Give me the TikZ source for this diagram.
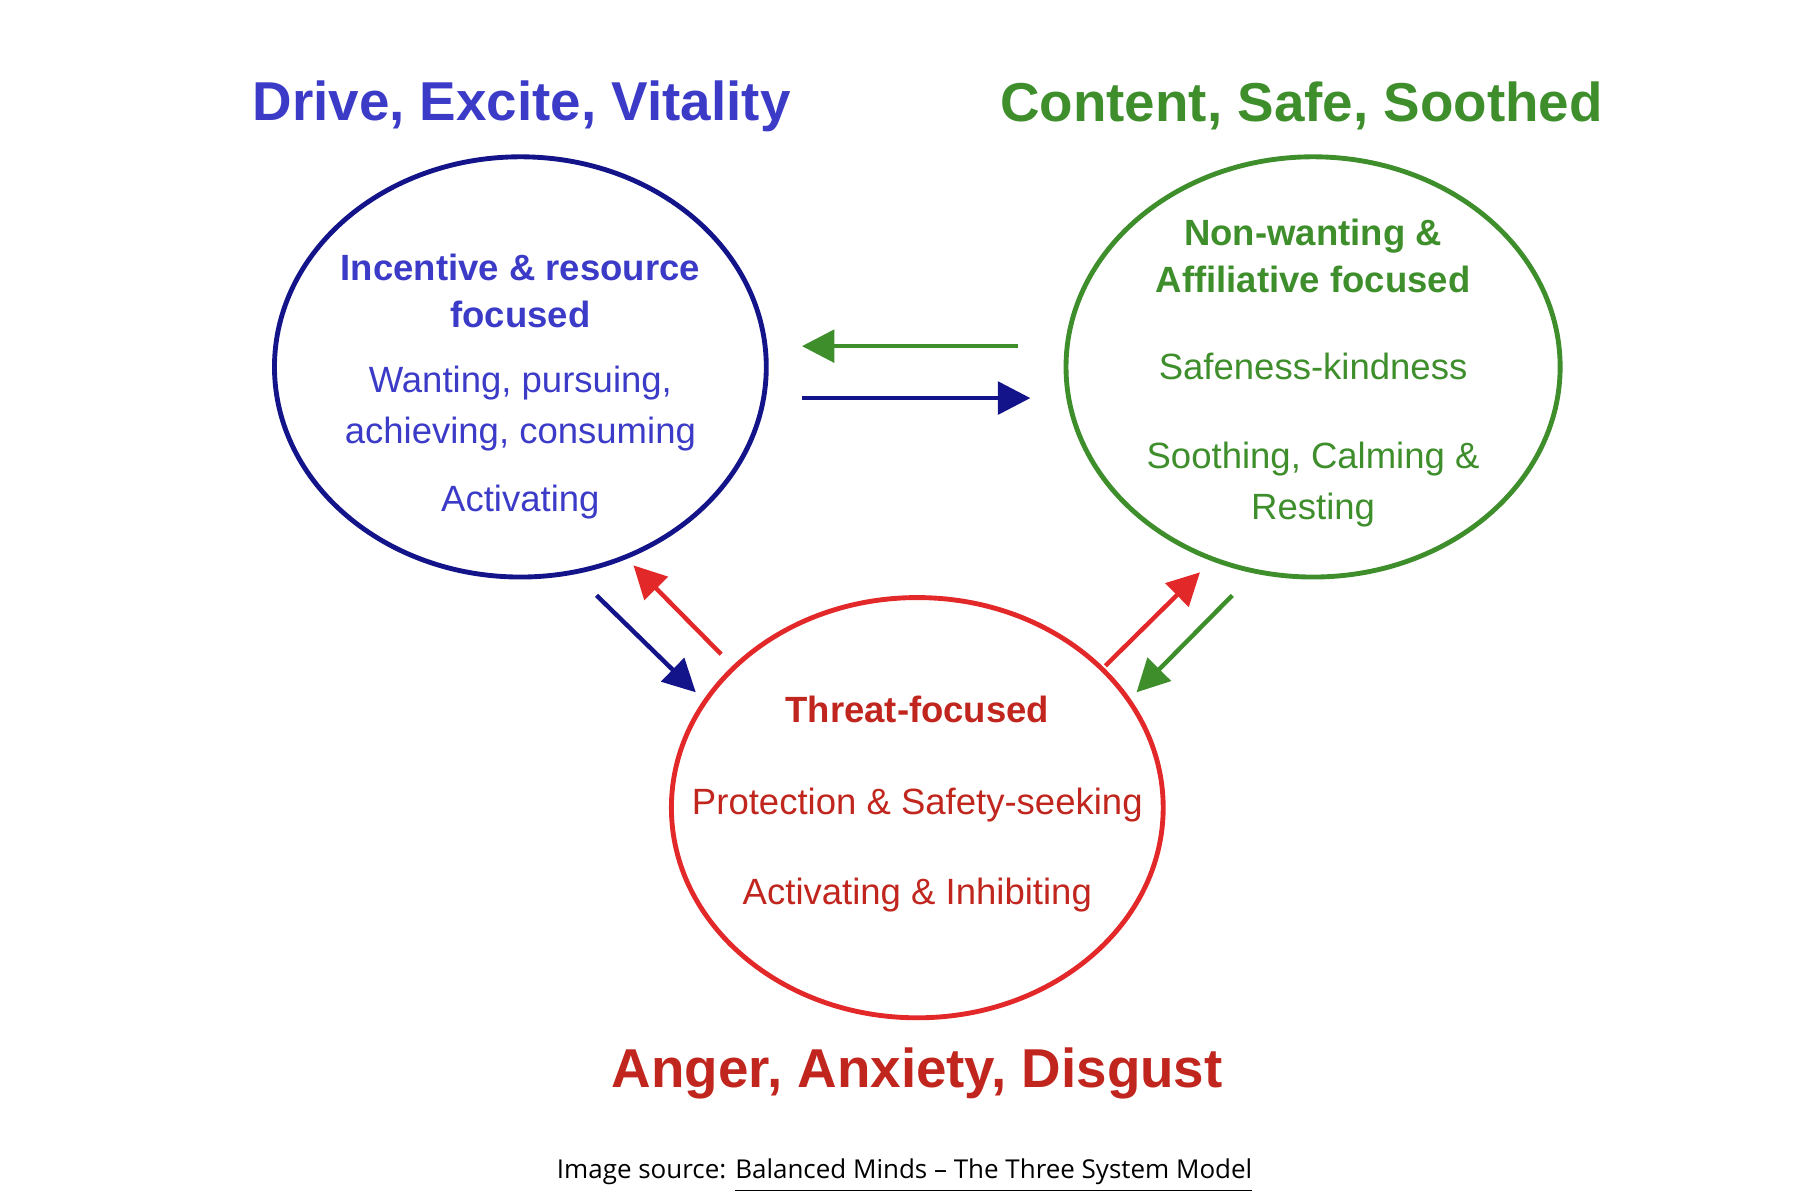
\documentclass[tikz,border=0pt]{standalone}
\usepackage{fontspec}
\setmainfont{Liberation Sans}
\newfontfamily\capfont{Open Sans}
\usetikzlibrary{arrows.meta,shapes.geometric}
\definecolor{tblue}{HTML}{3B3BC8}
\definecolor{dblue}{HTML}{14148A}
\definecolor{tgreen}{HTML}{3E8E2C}
\definecolor{cred}{HTML}{E3282A}
\definecolor{tred}{HTML}{C0261E}
\tikzset{
 sys/.style={draw,line width=1.2pt,ellipse,inner sep=0pt,outer sep=0pt},
 arr/.style={line width=1.1pt,-{Triangle[length=8pt,width=8pt]}},
 ttl/.style={font=\bfseries\fontsize{13.5}{16}\selectfont},
 txt/.style={align=center,font=\fontsize{9}{12.5}\selectfont},
 btxt/.style={align=center,font=\bfseries\fontsize{9}{11.5}\selectfont},
}
\begin{document}
\begin{tikzpicture}[x=0.01cm,y=-0.01cm]
\useasboundingbox (0,0) rectangle (1560,1040);
\node[sys,draw=dblue,minimum width=4.26cm,minimum height=3.64cm] (drive) at (451,318) {};
\node[sys,draw=tgreen,minimum width=4.28cm,minimum height=3.64cm] (soothe) at (1138,318) {};
\node[sys,draw=cred,minimum width=4.26cm,minimum height=3.64cm] (threat) at (795,700) {};
\node[ttl,text=tblue] (t1) at (452,92) {Drive, Excite, Vitality};
\node[ttl,text=tgreen] (t2) at (1128,92) {Content, Safe, Soothed};
\node[ttl,text=tred] (t3) at (795,930) {Anger, Anxiety, Disgust};
\node[btxt,text=tblue] (d1) at (451,252) {Incentive \& resource\\focused};
\node[txt,text=tblue] (d2) at (451,354) {Wanting, pursuing,\\achieving, consuming};
\node[txt,text=tblue] (d3) at (451,435) {Activating};
\node[btxt,text=tgreen] (s1) at (1138,222) {Non-wanting \&\\Affiliative focused};
\node[txt,text=tgreen] (s2) at (1138,318) {Safeness-kindness};
\node[txt,text=tgreen] (s3) at (1138,420) {Soothing, Calming \&\\Resting};
\node[btxt,text=tred] (r1) at (795,615) {Threat-focused};
\node[txt,text=tred] (r2) at (795,698) {Protection \& Safety-seeking};
\node[txt,text=tred] (r3) at (795,776) {Activating \& Inhibiting};
\node[font=\capfont\fontsize{6.4}{8}\selectfont] (src) at (784,1019) {Image source: \underline{Balanced Minds – The Three System Model}};
\coordinate (a1) at (882,300); \coordinate (a2) at (695,300);
\coordinate (b1) at (695,345); \coordinate (b2) at (893,345);
\coordinate (c1) at (517,516); \coordinate (c2) at (603,600);
\coordinate (e1) at (625,567); \coordinate (e2) at (549,490);
\coordinate (f1) at (958,577); \coordinate (f2) at (1040,496);
\coordinate (g1) at (1068,516); \coordinate (g2) at (985,600);
\draw[arr,tgreen] (a1) -- (a2);
\draw[arr,dblue] (b1) -- (b2);
\draw[arr,dblue] (c1) -- (c2);
\draw[arr,cred] (e1) -- (e2);
\draw[arr,cred] (f1) -- (f2);
\draw[arr,tgreen] (g1) -- (g2);
\end{tikzpicture}
\end{document}
